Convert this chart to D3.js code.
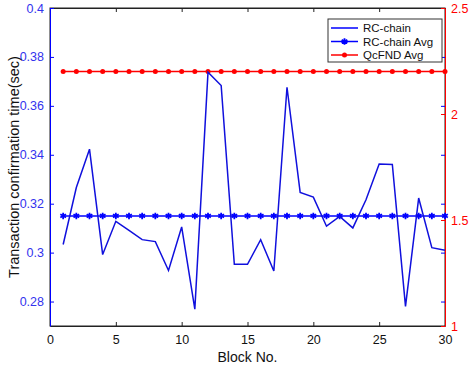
<!DOCTYPE html>
<html>
<head>
<meta charset="utf-8">
<script src="https://cdn.jsdelivr.net/npm/d3@7"></script>
<style>
  body { margin: 0; background: #fff; }
  text { font-family: "Liberation Sans", Arial, sans-serif; }
</style>
</head>
<body>
<div id="graph-container"></div>
<script>
// Data
var blocks = d3.range(1, 31);
var rcChain = [0.3033, 0.3266, 0.3423, 0.2992, 0.3128, 0.3091, 0.3053, 0.3045, 0.2927, 0.3105,
               0.2769, 0.3737, 0.3683, 0.2952, 0.2952, 0.3053, 0.2925, 0.3676, 0.3246, 0.3227,
               0.3108, 0.3148, 0.3101, 0.3216, 0.3362, 0.3360, 0.2780, 0.3223, 0.3020, 0.3010];
var rcChainAvg = 0.315;
var qcfndAvg = 2.2;
var xTicks = [0, 5, 10, 15, 20, 25, 30];
var leftTicks = [0.28, 0.3, 0.32, 0.34, 0.36, 0.38, 0.4];
var rightTicks = [1, 1.5, 2, 2.5];
var legendNames = ["RC-chain", "RC-chain Avg", "QcFND Avg"];

var svgWidth = 474, svgHeight = 366;
var margin = { top: 8, right: 29, bottom: 40, left: 50 };
var w = svgWidth - margin.left - margin.right;
var h = svgHeight - margin.top - margin.bottom;

var blue = "#0000ff", red = "#ff0000";

var svg = d3.select("#graph-container").append("svg")
  .attr("width", svgWidth).attr("height", svgHeight);

var chart = svg.append("g")
  .attr("transform", "translate(" + margin.left + "," + margin.top + ")");

var x = d3.scaleLinear().domain([0, 30]).range([0, w]);
var yL = d3.scaleLinear().domain([0.27, 0.4]).range([h, 0]);
var yR = d3.scaleLinear().domain([1, 2.5]).range([h, 0]);

// box
chart.append("rect").attr("width", w).attr("height", h)
  .attr("fill", "none").attr("stroke", "#222").attr("stroke-width", 1);

// bottom axis
var xb = chart.append("g").attr("transform", "translate(0," + h + ")")
  .call(d3.axisBottom(x).tickValues(xTicks).tickSizeInner(-4).tickSizeOuter(0).tickPadding(9));
xb.select(".domain").attr("stroke", "#222");
xb.selectAll(".tick line").attr("stroke", "#222");
xb.selectAll("text").attr("font-size", 12.5).attr("fill", "#111");

// top ticks
chart.append("g")
  .call(d3.axisTop(x).tickValues(xTicks).tickSizeInner(-4).tickSizeOuter(0).tickFormat(""))
  .call(function (g) { g.select(".domain").attr("stroke", "#222"); g.selectAll("line").attr("stroke", "#222"); });

// left axis
var yl = chart.append("g")
  .call(d3.axisLeft(yL).tickValues(leftTicks).tickSizeInner(-4).tickSizeOuter(0).tickPadding(6).tickFormat(d3.format("~g")));
yl.select(".domain").attr("stroke", blue);
yl.selectAll(".tick line").attr("stroke", blue);
yl.selectAll("text").attr("font-size", 12.5).attr("fill", "#3333ee");

// left ticks mirrored on right side
chart.append("g").attr("transform", "translate(" + w + ",0)")
  .call(d3.axisRight(yL).tickValues(leftTicks).tickSizeInner(-4).tickSizeOuter(0).tickFormat(""))
  .call(function (g) { g.select(".domain").remove(); g.selectAll("line").attr("stroke", blue); });

// right axis
var yr = chart.append("g").attr("transform", "translate(" + w + ",0)")
  .call(d3.axisRight(yR).tickValues(rightTicks).tickSizeInner(-4).tickSizeOuter(0).tickPadding(6).tickFormat(d3.format("~g")));
yr.select(".domain").attr("stroke", red);
yr.selectAll(".tick line").attr("stroke", red);
yr.selectAll("text").attr("font-size", 12.5).attr("fill", red);

// axis titles
svg.append("text")
  .attr("transform", "translate(19," + (margin.top + h / 2) + ") rotate(-90)")
  .attr("text-anchor", "middle").attr("font-size", 14.5).attr("fill", "#111")
  .text("Transaction confirmation time(sec)");
svg.append("text")
  .attr("x", margin.left + w / 2).attr("y", 362)
  .attr("text-anchor", "middle").attr("font-size", 14).attr("fill", "#111")
  .text("Block No.");

// QcFND Avg (right axis)
chart.append("path")
  .datum(blocks)
  .attr("fill", "none").attr("stroke", red).attr("stroke-width", 1.5)
  .attr("d", d3.line().x(function (d) { return x(d); }).y(function () { return yR(qcfndAvg); }));
chart.selectAll(".qdot").data(blocks).enter().append("circle")
  .attr("class", "qdot")
  .attr("cx", function (d) { return x(d); })
  .attr("cy", yR(qcfndAvg))
  .attr("r", 2.5).attr("fill", red);

// RC-chain Avg (left axis)
var star = d3.symbol().type(d3.symbolAsterisk).size(30);
chart.append("path")
  .datum(blocks)
  .attr("fill", "none").attr("stroke", blue).attr("stroke-width", 1.5)
  .attr("d", d3.line().x(function (d) { return x(d); }).y(function () { return yL(rcChainAvg); }));
chart.selectAll(".astar").data(blocks).enter().append("path")
  .attr("class", "astar")
  .attr("transform", function (d) { return "translate(" + x(d) + "," + yL(rcChainAvg) + ")"; })
  .attr("d", star).attr("fill", "none").attr("stroke", blue).attr("stroke-width", 1.8);

// RC-chain
chart.append("path")
  .datum(rcChain)
  .attr("fill", "none").attr("stroke", "#1010dd").attr("stroke-width", 1.5)
  .attr("d", d3.line()
    .x(function (d, i) { return x(blocks[i]); })
    .y(function (d) { return yL(d); }));

// legend
var lg = svg.append("g").attr("transform", "translate(328,19)");
lg.append("rect").attr("width", 114).attr("height", 43)
  .attr("fill", "#fff").attr("stroke", "#333").attr("stroke-width", 1);
var colors = [blue, blue, red];
legendNames.forEach(function (name, i) {
  var ly = 9 + i * 13.5;
  lg.append("line").attr("x1", 3).attr("x2", 30).attr("y1", ly).attr("y2", ly)
    .attr("stroke", colors[i]).attr("stroke-width", 1.5);
  if (i === 1) {
    lg.append("path").attr("transform", "translate(16.5," + ly + ")")
      .attr("d", star).attr("fill", "none").attr("stroke", blue).attr("stroke-width", 1.8);
  }
  if (i === 2) {
    lg.append("circle").attr("cx", 16.5).attr("cy", ly).attr("r", 2.5).attr("fill", red);
  }
  lg.append("text").attr("x", 35).attr("y", ly + 4).attr("font-size", 11.5).attr("fill", "#111").text(name);
});
</script>
</body>
</html>
